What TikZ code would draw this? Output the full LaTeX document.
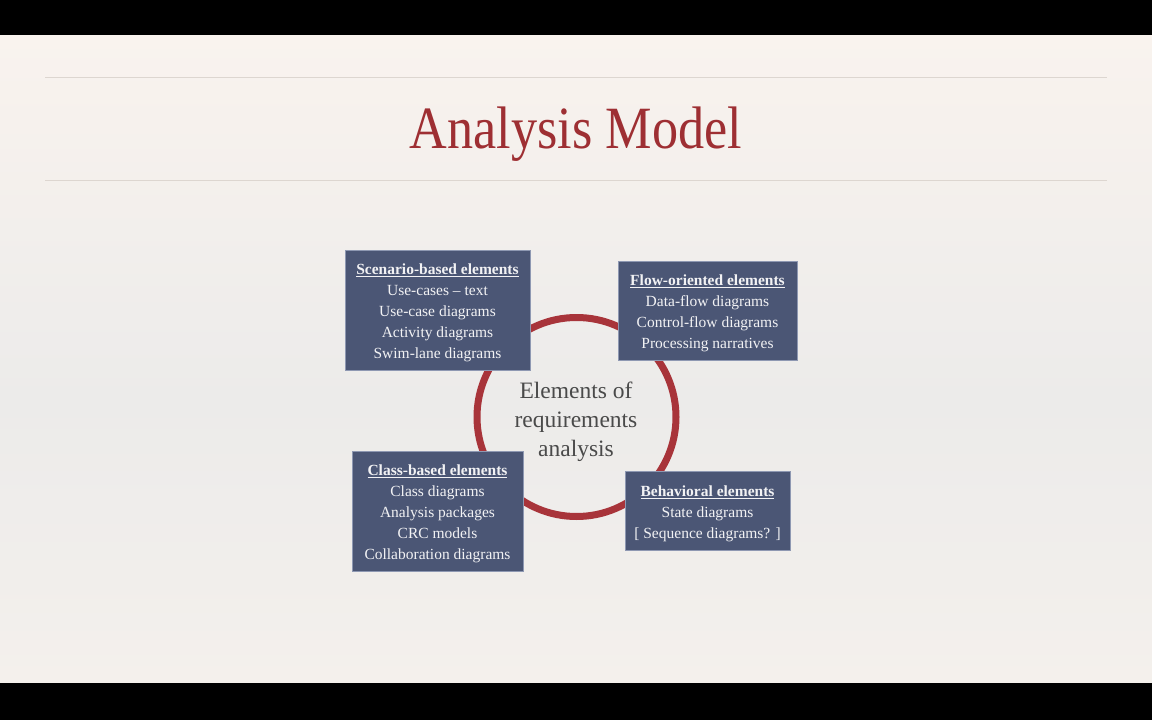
\documentclass[tikz,border=0pt]{standalone}
\usepackage{fontspec}
\setmainfont{Liberation Serif}
\definecolor{bgtop}{HTML}{F9F3EE}
\definecolor{bgmid}{HTML}{ECEBEA}
\definecolor{bgbot}{HTML}{F4F0EC}
\definecolor{titlered}{HTML}{9E2F33}
\definecolor{ringred}{HTML}{A8343A}
\definecolor{boxfill}{HTML}{4B5675}
\definecolor{boxline}{HTML}{8E98B2}
\definecolor{boxtext}{HTML}{F2F2F4}
\definecolor{centertext}{HTML}{4A4A4A}
\definecolor{rulecol}{HTML}{DDD6D0}
\tikzset{
  box/.style={draw=boxline, line width=0.8pt, fill=boxfill, inner sep=0pt},
  boxtxt/.style={text=boxtext, align=center, inner sep=0pt, yshift=-3pt,
    font=\fontsize{15.5}{21}\selectfont},
  ring/.style={draw=ringred, line width=7pt},
  rulestyle/.style={draw=rulecol, line width=0.8pt}
}
\newcommand{\hd}[1]{\textbf{\underline{#1}}}
\begin{document}
\begin{tikzpicture}[x=1pt,y=-1pt]
  \useasboundingbox (0,0) rectangle (1152,720);
  \shade[top color=bgtop, bottom color=bgmid] (0,35) rectangle (1152,400);
  \shade[top color=bgmid, bottom color=bgbot] (0,400) rectangle (1152,683);
  \fill[black] (0,0) rectangle (1152,35);
  \fill[black] (0,683) rectangle (1152,720);
  \coordinate (r1a) at (45,77);
  \coordinate (r1b) at (1107,77);
  \coordinate (r2a) at (45,180);
  \coordinate (r2b) at (1107,180);
  \draw[rulestyle] (r1a) -- (r1b);
  \draw[rulestyle] (r2a) -- (r2b);
  \node[text=titlered, font=\fontsize{60}{64}\selectfont, inner sep=0pt,
    anchor=base, xscale=0.87, transform shape] (title) at (576,148) {Analysis Model};
  \node[ring, circle, minimum size=199pt, inner sep=0pt] (ring) at (576.5,417) {};
  \node[text=centertext, align=center, font=\fontsize{23.5}{29}\selectfont, inner sep=0pt] (center) at (576,422) {Elements of\\requirements\\analysis};
  \node[box, minimum width=185pt, minimum height=120pt] (scen) at (437.5,310) {};
  \node[boxtxt] (scenT) at (scen.center)
    {\hd{Scenario-based elements}\\Use-cases – text\\Use-case diagrams\\Activity diagrams\\Swim-lane diagrams};
  \node[box, minimum width=179pt, minimum height=99pt] (flow) at (707.5,310.5) {};
  \node[boxtxt] (flowT) at (flow.center)
    {\hd{Flow-oriented elements}\\Data-flow diagrams\\Control-flow diagrams\\Processing narratives};
  \node[box, minimum width=171pt, minimum height=120pt] (class) at (437.5,511) {};
  \node[boxtxt] (classT) at (class.center)
    {\hd{Class-based elements}\\Class diagrams\\Analysis packages\\CRC models\\Collaboration diagrams};
  \node[box, minimum width=165pt, minimum height=79pt] (behav) at (707.5,510.5) {};
  \node[boxtxt] (behavT) at (behav.center)
    {\hd{Behavioral elements}\\State diagrams\\{[} Sequence diagrams? {]}};
\end{tikzpicture}
\end{document}
